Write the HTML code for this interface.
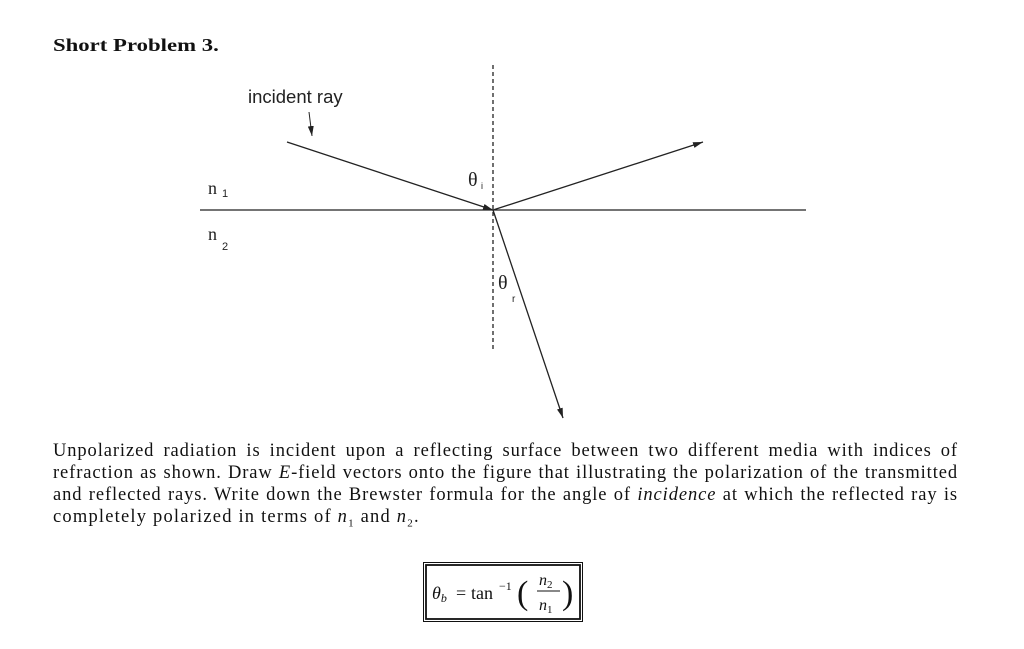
<!DOCTYPE html>
<html><head><meta charset="utf-8"><style>
body{margin:0;width:1024px;height:649px;background:#fff;position:relative;font-family:"Liberation Serif",serif;color:#111;overflow:hidden}
.t{position:absolute}
.l{position:absolute;left:53px;width:905px;margin:0;font-size:18.5px;letter-spacing:0.9px;line-height:22px;text-align:justify;text-align-last:justify;white-space:nowrap}
.l.e{text-align-last:left;letter-spacing:1.2px}
</style></head><body>
<div class="t" style="left:53px;top:35px;font-size:17.5px;font-weight:bold;transform:scaleX(1.3);transform-origin:0 0">Short Problem 3.</div>
<svg width="1024" height="649" style="position:absolute;left:0;top:0">
<defs><marker id="a" markerWidth="10" markerHeight="6" refX="10" refY="3" orient="auto" markerUnits="userSpaceOnUse"><path d="M0,0L10,3L0,6z" fill="#222"/></marker></defs>
<g stroke="#222" stroke-width="1.3" fill="none">
<line x1="200" y1="210" x2="806" y2="210"/>
<line x1="493" y1="65" x2="493" y2="350" stroke-dasharray="4,3"/>
<line x1="287" y1="142" x2="493" y2="210" marker-end="url(#a)"/>
<line x1="493" y1="210" x2="703" y2="142" marker-end="url(#a)"/>
<line x1="493" y1="210" x2="563" y2="418" marker-end="url(#a)"/>
<line x1="309" y1="112" x2="312" y2="136" stroke-width="1" marker-end="url(#a)"/>
</g>
<g font-family="Liberation Sans,sans-serif" fill="#222">
<text x="248" y="103" font-size="18.5">incident ray</text>
<text x="208" y="194" font-size="18" font-family="Liberation Serif,serif">n</text><text x="222" y="197" font-size="11">1</text>
<text x="208" y="240" font-size="18" font-family="Liberation Serif,serif">n</text><text x="222" y="250" font-size="11">2</text>
<text x="468" y="186" font-size="20" font-family="Liberation Serif,serif">θ</text><text x="481" y="189" font-size="9">i</text>
<text x="498" y="289" font-size="20" font-family="Liberation Serif,serif">θ</text><text x="512" y="302" font-size="10">r</text>
</g>
<rect x="423.5" y="562.5" width="159" height="59" fill="none" stroke="#111" stroke-width="1"/>
<rect x="426" y="565" width="154" height="54" fill="none" stroke="#111" stroke-width="1.8"/>
<g font-family="Liberation Serif,serif" fill="#111">
<text x="432" y="599" font-size="18" font-style="italic">θ<tspan font-size="12" dy="3">b</tspan></text>
<text x="456" y="599" font-size="18">=</text>
<text x="471" y="599" font-size="18">tan</text>
<text x="499" y="590" font-size="12">−1</text>
<text x="517" y="604" font-size="34">(</text>
<text x="539" y="585" font-size="16" font-style="italic">n<tspan font-size="11" dy="3" font-style="normal">2</tspan></text>
<line x1="537" y1="591" x2="560" y2="591" stroke="#111" stroke-width="1"/>
<text x="539" y="610" font-size="16" font-style="italic">n<tspan font-size="11" dy="3" font-style="normal">1</tspan></text>
<text x="562" y="604" font-size="34">)</text>
</g>
</svg>
<div class="l" style="top:440px">Unpolarized radiation is incident upon a reflecting surface between two different media with indices of</div>
<div class="l" style="top:462px">refraction as shown. Draw <i>E</i>-field vectors onto the figure that illustrating the polarization of the transmitted</div>
<div class="l" style="top:484px">and reflected rays. Write down the Brewster formula for the angle of <i>incidence</i> at which the reflected ray is</div>
<div class="l e" style="top:506px">completely polarized in terms of <i>n</i><sub style="font-size:11px">1</sub> and <i>n</i><sub style="font-size:11px">2</sub>.</div>
</body></html>
